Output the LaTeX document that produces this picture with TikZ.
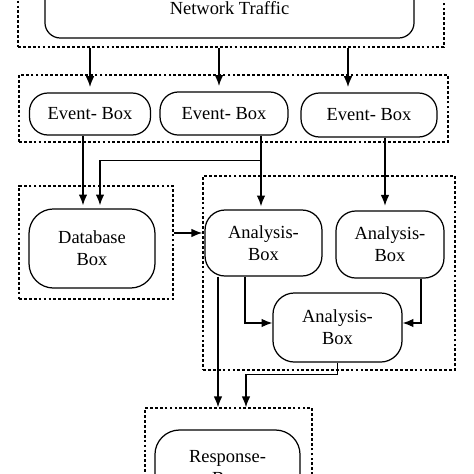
\documentclass[tikz,border=0pt]{standalone}
\usepackage{fontspec}
\setmainfont{Liberation Serif}
\usetikzlibrary{arrows.meta,positioning,calc}

\begin{document}
\begin{tikzpicture}[x=0.65pt,y=-0.65pt,font=\fontsize{12}{14.3}\selectfont,
    box/.style={draw,rounded corners=12pt,align=center,inner sep=0pt,line width=0.8pt},
    dotbox/.style={draw,line width=1pt,dash pattern=on 1.8pt off 1.4pt,inner sep=0pt},
    >={Latex[length=7pt,width=5.5pt]},line width=0.75pt]
  \useasboundingbox (0,0) rectangle (474,474);
  % frames
  \node[dotbox,minimum width=276.9pt,minimum height=56.6pt] (frame1) at (231,3.5) {};
  \node[dotbox,minimum width=278.9pt,minimum height=43.6pt] (frame2) at (233.5,108.5) {};
  \node[dotbox,minimum width=100.1pt,minimum height=73.5pt] (dbframe) at (96,242.5) {};
  \node[dotbox,minimum width=163.8pt,minimum height=126.1pt] (aframe) at (329,273) {};
  \node[dotbox,minimum width=108.6pt,minimum height=59.8pt] (rframe) at (228.5,454) {};
  % boxes
  \node[box,rounded corners=10pt,minimum width=239.9pt,minimum height=39pt] (traffic) at (229.5,8) {Network Traffic};
  \node[box,minimum width=78.7pt,minimum height=27.3pt] (e1) at (90,114) {Event- Box};
  \node[box,minimum width=83.2pt,minimum height=28pt] (e2) at (224,113.5) {Event- Box};
  \node[box,minimum width=88.4pt,minimum height=28.6pt] (e3) at (369,115) {Event- Box};
  \node[box,rounded corners=16pt,minimum width=81.9pt,minimum height=51.4pt] (db) at (92,248.5) {Database\\ Box};
  \node[box,rounded corners=13pt,minimum width=76pt,minimum height=42.9pt] (a1) at (263.5,243) {Analysis-\\ Box};
  \node[box,rounded corners=13pt,minimum width=70.2pt,minimum height=43.6pt] (a2) at (390,244.5) {Analysis-\\ Box};
  \node[box,rounded corners=14pt,minimum width=83.9pt,minimum height=44.9pt] (a3) at (337.5,327.5) {Analysis-\\ Box};
  \node[box,rounded corners=16pt,minimum width=94.3pt,minimum height=49.4pt] (resp) at (227.5,468) {Response-\\ Box};
  % traffic to events
  \draw[->,shorten >=3.5pt] (frame1.south -| e1.north) -- (e1.north);
  \draw[->,shorten >=3.5pt] ($(frame1.south -| e2.north)+(-5,0)$) -- ($(e2.north)+(-5,0)$);
  \draw[->,shorten >=3.5pt] ($(frame1.south -| e3.north)+(-21,0)$) -- ($(e3.north)+(-21,0)$);
  % events to database and analysis
  \draw[->,shorten >=2pt] ($(e1.south)+(-7,0)$) -- ($(db.north)+(-9,0)$);
  \draw[->,shorten >=2pt] ($(e2.south)+(37,0)$) -- ($(a1.north)+(-2.5,0)$);
  \coordinate (split) at ($(e2.south)+(37,25)$);
  \draw[->,shorten >=2pt] (split) -| ($(db.north)+(8,0)$);
  \draw[->,shorten >=3pt] ($(e3.south)+(16,0)$) -- ($(a2.north)+(-5,0)$);
  \coordinate (dbout) at ($(dbframe.east)+(0,-9.5)$);
  \draw[->] (dbout) -- (dbout -| aframe.west);
  % inside analysis
  \draw[->] ($(a1.south)+(-18.5,0)$) |- ($(a3.west)+(0,-4.5)$);
  \draw[->] ($(a2.south)+(31,0)$) |- ($(a3.east)+(0,-4.5)$);
  % to response
  \draw[->] ($(a1.south)+(-45.5,0)$) -- ($(rframe.north)+(-10.5,0)$);
  \draw[->] (a3.south) -- ++(0,12) -| ($(rframe.north)+(17.5,0)$);
\end{tikzpicture}
\end{document}
